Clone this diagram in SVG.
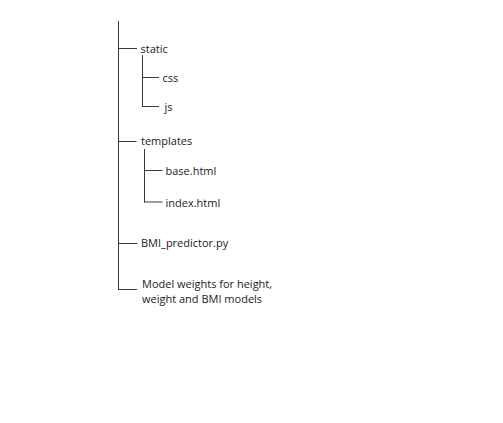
<svg xmlns="http://www.w3.org/2000/svg" width="503" height="423" viewBox="0 0 503 423">
<style>
.c line{stroke:#3a3a3a;stroke-width:1;fill:none}
text{font-family:"Open Sans","Noto Sans","Liberation Sans",sans-serif;font-size:11px;fill:#1a1a1a}
</style>
<rect width="503" height="423" fill="#ffffff"/>
<g class="c" id="connectors">
<line x1="118.5" y1="21" x2="118.5" y2="290"/>
<line x1="118.5" y1="48.5" x2="137" y2="48.5"/>
<line x1="118.5" y1="141.5" x2="136.5" y2="141.5"/>
<line x1="118.5" y1="243.5" x2="137.5" y2="243.5"/>
<line x1="118" y1="289.5" x2="137" y2="289.5"/>
<line x1="142.5" y1="55" x2="142.5" y2="107"/>
<line x1="142.5" y1="77.5" x2="159" y2="77.5"/>
<line x1="142" y1="106.5" x2="159" y2="106.5"/>
<line x1="144.5" y1="149" x2="144.5" y2="202.5"/>
<line x1="144.5" y1="170.5" x2="162.5" y2="170.5"/>
<line x1="144" y1="202" x2="162.5" y2="202"/>
</g>
<g id="static"><text x="140.5" y="52.5">static</text></g>
<g id="css"><text x="162.5" y="81.5">css</text></g>
<g id="js"><text x="164.5" y="110.5">js</text></g>
<g id="templates"><text x="141" y="145">templates</text></g>
<g id="base"><text x="165.5" y="174.5">base.html</text></g>
<g id="index"><text x="165.5" y="206.5">index.html</text></g>
<g id="bmi"><text x="141" y="247">BMI_predictor.py</text></g>
<g id="weights"><text x="142" y="288">Model weights for height,</text><text x="142" y="302.5">weight and BMI models</text></g>
</svg>
